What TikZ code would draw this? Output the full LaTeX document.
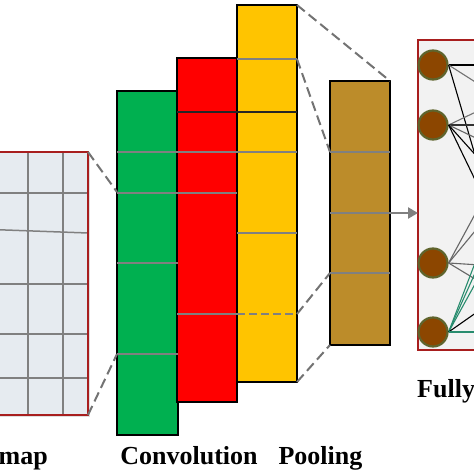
\documentclass[tikz,border=0pt]{standalone}
\usepackage{fontspec}
\setmainfont{Liberation Serif}
\usetikzlibrary{shapes,shadows,calc,arrows.meta}

\definecolor{convgreen}{RGB}{0,176,80}
\definecolor{convred}{RGB}{255,0,0}
\definecolor{convyellow}{RGB}{255,196,0}
\definecolor{poolgold}{RGB}{188,140,42}
\definecolor{mapfill}{RGB}{230,235,240}
\definecolor{boxred}{RGB}{168,30,30}
\definecolor{neuronbrown}{RGB}{140,70,0}
\definecolor{neuronrim}{RGB}{95,100,45}
\definecolor{linkteal}{RGB}{40,140,110}

\begin{document}
\begin{tikzpicture} [x=1pt, y=-1pt,
				layer/.style={
				% The shape:
				rectangle,
				% The size:
				inner sep=0pt, outer sep=0pt,
				% The border:
				line width=2.2pt,
				draw=black
				},
				fmap/.style={
				% The shape:
				rectangle,
				% The size:
				inner sep=0pt, outer sep=0pt,
				% The filling:
				fill=mapfill,
				drop shadow={opacity=0.25, shadow xshift=1.5pt, shadow yshift=-1.5pt}
				},
				fcbox/.style={
				% The shape:
				rectangle,
				% The size:
				inner sep=0pt, outer sep=0pt,
				% The border:
				line width=2.2pt, draw=boxred,
				% The filling:
				fill=black!5
				},
				neuron/.style={
				% The shape:
				circle,
				% The size:
				minimum size=29pt, inner sep=0pt,
				% The border:
				line width=2.2pt, draw=neuronrim,
				% The filling:
				fill=neuronbrown
				},
				lbl/.style={
				font=\fontsize{26}{30}\selectfont\bfseries,
				inner sep=0pt
				},
				]
    \tikzstyle{grid} = [draw=black!50, line width=1.5pt]
    \tikzstyle{link} = [line width=2pt, draw=black!55, dash pattern=on 10pt off 5pt]
    \useasboundingbox (0,0) rectangle (474,474);
    \clip (0,0) rectangle (474,474);

    % feature map
    \node [fmap, minimum width=110, minimum height=263] (fmap) at (33,283.5) {};
    \foreach \x in {28,63}
        \draw [grid] (\x,152) -- (\x,415);
    \foreach \y in {193,284,334,378}
        \draw [grid] (fmap.west |- 0,\y) -- (fmap.east |- 0,\y);
    \draw [grid] (fmap.west |- 0,229) -- (fmap.east |- 0,233);
    \draw [boxred, line width=2.2pt] (fmap.north west) -- (fmap.north east) -- (fmap.south east) -- (fmap.south west);

    % convolution layers
    \node [layer, fill=convgreen, minimum width=61, minimum height=344] (green) at (147.5,263) {};
    \node [layer, fill=convred, minimum width=60, minimum height=344] (red) at (207,230) {};
    \node [layer, fill=convyellow, minimum width=60, minimum height=377] (yellow) at (267,193.5) {};
    \draw [grid] (yellow.west |- 0,59) -- (yellow.east |- 0,59);
    \draw [black!85, line width=1.5pt] (red.west |- 0,112) -- (yellow.east |- 0,112);
    \draw [grid] (green.west |- 0,152) -- (yellow.east |- 0,152);
    \draw [grid] (green.west |- 0,193) -- (red.east |- 0,193);
    \draw [grid] (yellow.west |- 0,233) -- (yellow.east |- 0,233);
    \draw [grid] (green.west |- 0,263) -- (green.east |- 0,263);
    \draw [grid] (red.west |- 0,314) -- (red.east |- 0,314);
    \draw [grid, dash pattern=on 8pt off 4pt] (yellow.west |- 0,314) -- (yellow.east |- 0,314);
    \draw [grid] (green.west |- 0,354) -- (green.east |- 0,354);

    % pooling layer
    \node [layer, fill=poolgold, minimum width=60, minimum height=264] (pool) at (360,213) {};
    \foreach \y in {152,213,273}
        \draw [grid] (pool.west |- 0,\y) -- (pool.east |- 0,\y);

    % dashed projections
    \draw [link] (fmap.north east) -- (green.west |- 0,192);
    \draw [link] (fmap.south east) -- (green.west |- 0,354);
    \draw [link] (yellow.north east) -- (pool.north east);
    \draw [link] (yellow.east |- 0,59) -- (pool.west |- 0,152);
    \draw [link] (yellow.east |- 0,314) -- (pool.west |- 0,273);
    \draw [link] (yellow.south east) -- (pool.south west);

    % fully connected part
    \node [fcbox, minimum width=90, minimum height=310] (fc) at (463,195) {};
    \draw [black!50, line width=2.4pt, -{Triangle[length=10pt, width=11pt]}] (pool.east) -- (pool.east -| fc.west);
    \node [neuron] (n1) at (433,65) {};
    \node [neuron] (n2) at (433,125) {};
    \node [neuron] (n3) at (433,263) {};
    \node [neuron] (n4) at (433,332) {};
    \foreach \y in {65,85,96,110,125,140,160,172,190,205,225,250,262,265,275,282,310,332}
        \coordinate (r\y) at (480,\y);
    \foreach \a/\b/\c in {n1/65/black, n1/85/black!55, n1/172/black, n2/110/black!55, n2/125/black!80,
                          n2/140/black!60, n2/160/black, n2/190/black, n3/205/black!60, n3/225/black!60,
                          n3/265/black!60, n3/282/black!60, n4/250/linkteal, n4/262/linkteal,
                          n4/275/linkteal, n4/310/black, n4/332/linkteal}
        \draw [\c, line width=1.1pt] (\a.east) -- (r\b);

    % labels
    \node [lbl, anchor=base east] (maplbl) at (48,464) {map};
    \node [lbl, anchor=base] (convlbl) at (189,464) {Convolution};
    \node [lbl, anchor=base] (poollbl) at (320.5,464) {Pooling};
    \node [lbl, anchor=base west] (fclbl) at (417,397) {Fully};
\end{tikzpicture}
\end{document}
